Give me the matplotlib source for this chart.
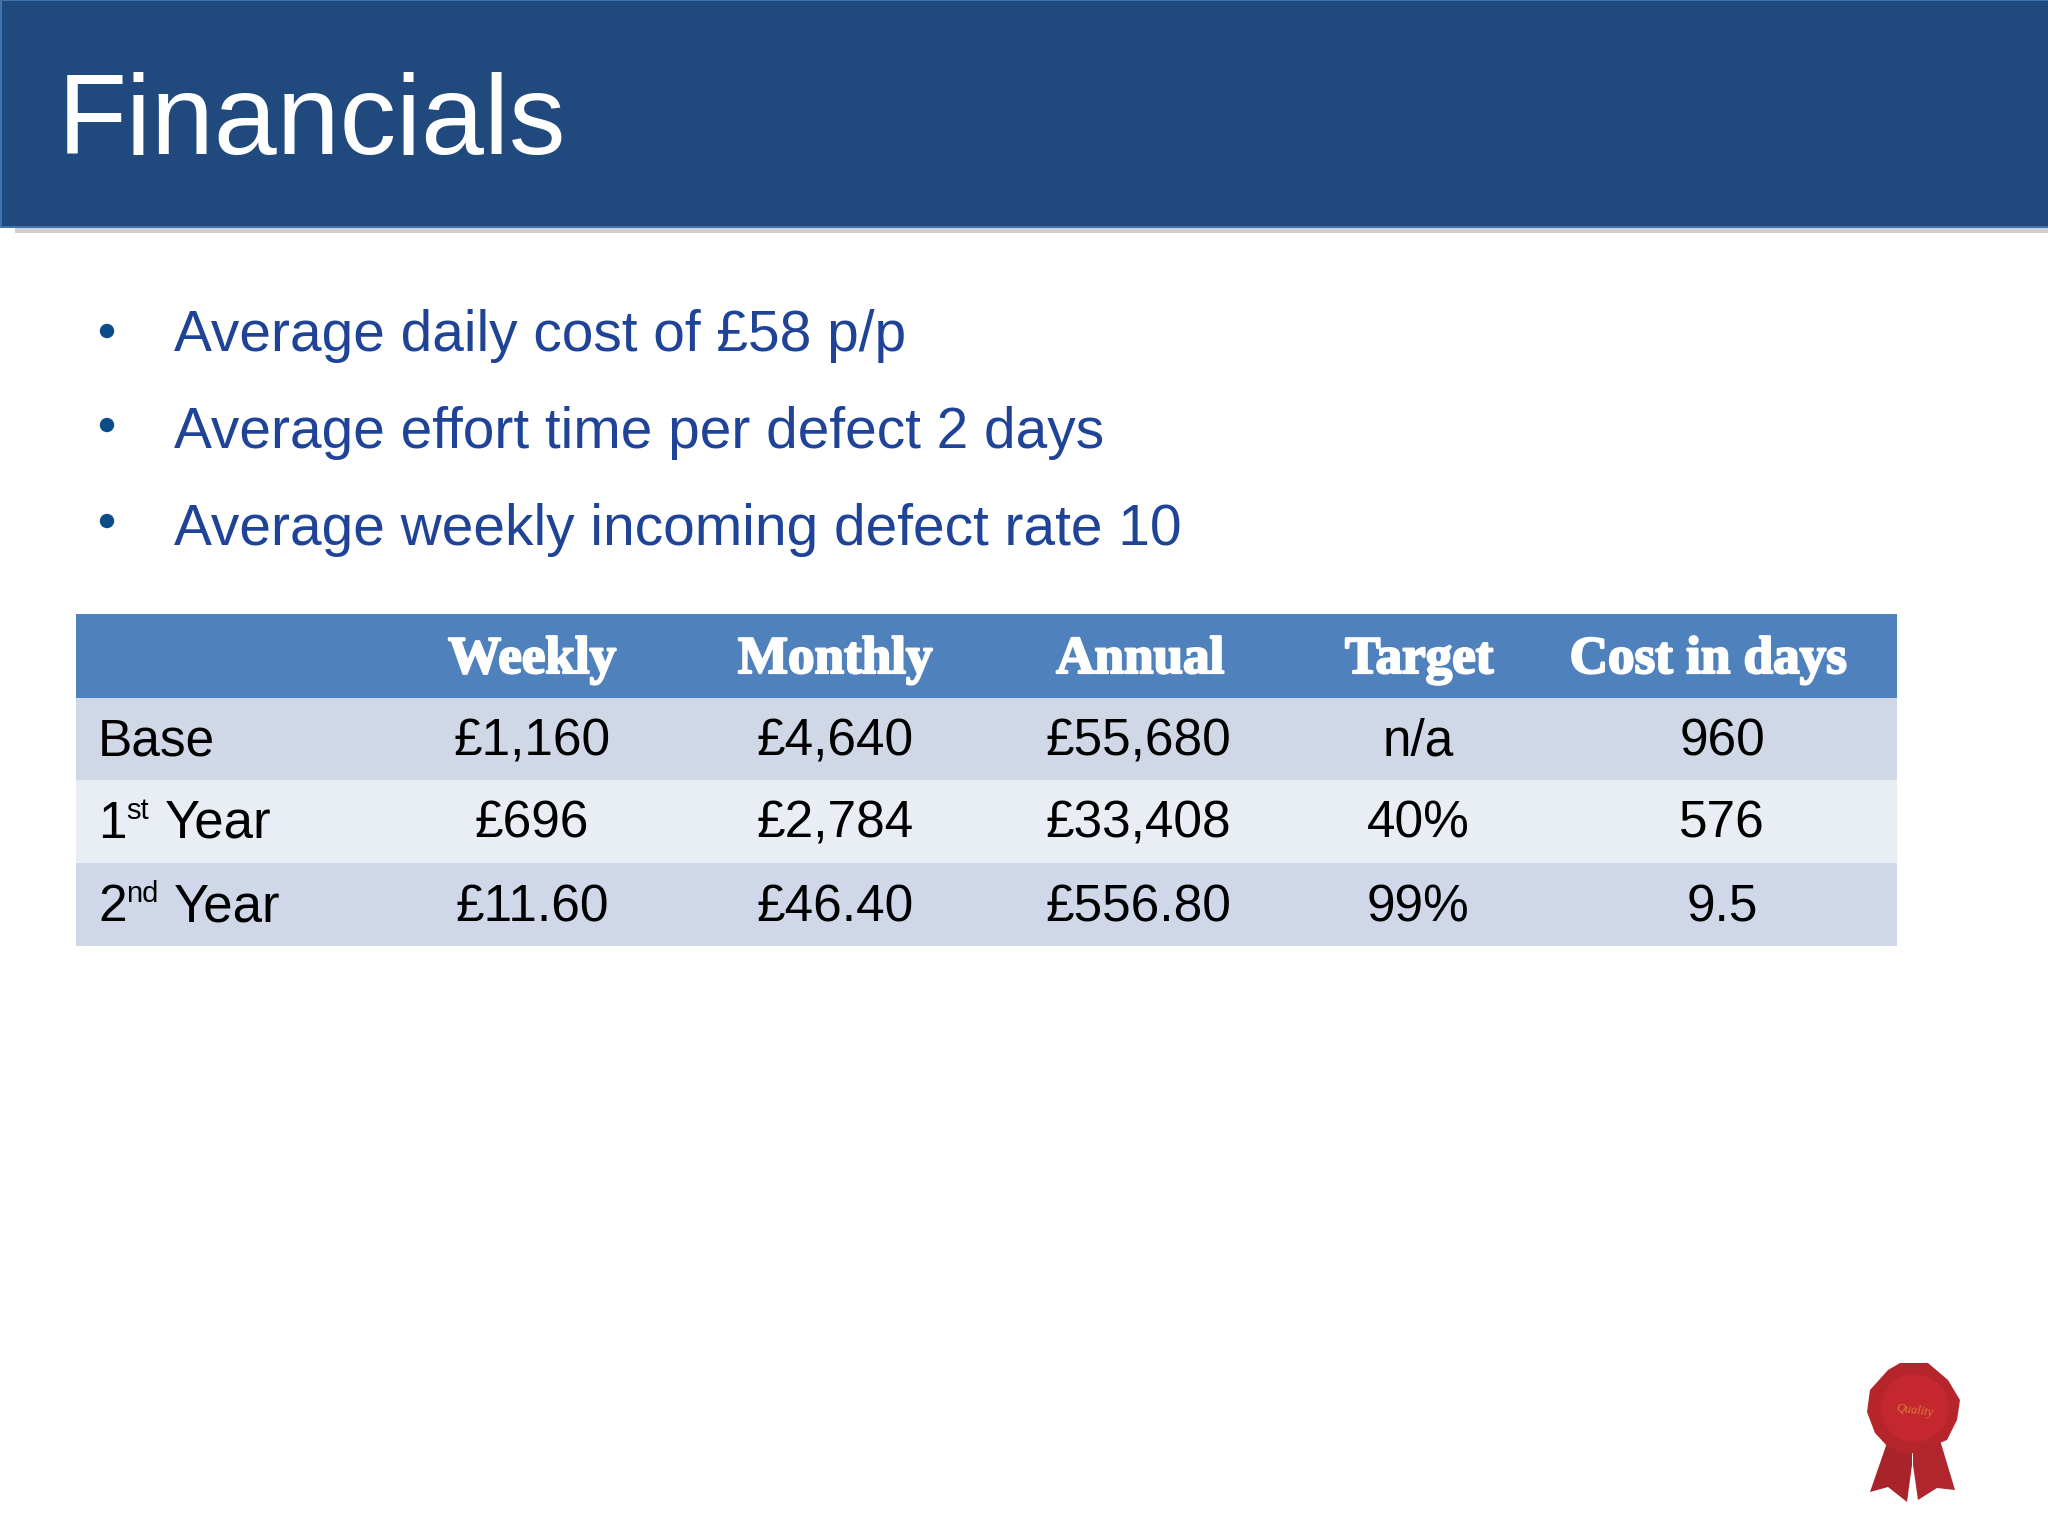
import numpy as np
import matplotlib
matplotlib.use("Agg")
from matplotlib import pyplot as plt
from matplotlib import patheffects
from matplotlib.patches import Rectangle, Polygon, Circle

plt.rcParams["font.family"] = ["Liberation Sans", "DejaVu Sans"]

title = "Financials"
bullets = ["Average daily cost of £58 p/p",
           "Average effort time per defect 2 days",
           "Average weekly incoming defect rate 10"]

columns = ["Weekly", "Monthly", "Annual", "Target", "Cost in days"]
weekly = ["£1,160", "£696", "£11.60"]
monthly = ["£4,640", "£2,784", "£46.40"]
annual = ["£55,680", "£33,408", "£556.80"]
target = ["n/a", "40%", "99%"]
cost_days = ["960", "576", "9.5"]

# layout in image pixels
W, H = 2048, 1536
col_x = [532, 835, 1138, 1418, 1722]
head_x = [532, 835, 1140, 1419, 1708]
row_edges = [614, 698, 780, 863, 946]
row_base = [755, 838, 921]
row_colors = ["#d0d8e8", "#e9edf4", "#cfd7e8"]
bullet_base = [351, 448, 545]
bullet_dot = [331, 425, 521]

fig = plt.figure(figsize=(W / 100, H / 100), dpi=100)
ax = fig.add_axes([0, 0, 1, 1])
ax.set_xlim(0, W)
ax.set_ylim(H, 0)
ax.axis("off")

# banner
ax.add_patch(Rectangle((15, 227), W - 15, 6, color="#d0d0d4", lw=0))
ax.add_patch(Rectangle((0, 0), W, 228, color="#3f74b0", lw=0))
ax.add_patch(Rectangle((2, 1), W - 2, 225, color="#20497e", lw=0))
ax.text(58, 154, title, color="white", fontsize=81.4, va="baseline")

# bullet list
for text, y, dot in zip(bullets, bullet_base, bullet_dot):
    ax.add_patch(Circle((107, dot), 7.2, color="#0b4c8a", lw=0))
    ax.text(174, y, text, color="#1f4497", fontsize=40.95, va="baseline")

# table
left, right = 76, 1897
ax.add_patch(Rectangle((left, row_edges[0]), right - left, row_edges[1] - row_edges[0],
                       color="#4f81bd", lw=0))
for i, c in enumerate(row_colors):
    ax.add_patch(Rectangle((left, row_edges[i + 1]), right - left,
                           row_edges[i + 2] - row_edges[i + 1], color=c, lw=0))

# heavy look of the header face comes from a thin stroke on a bold serif
fat = [patheffects.withStroke(linewidth=1.6, foreground="white")]
for x, name in zip(head_x, columns):
    ax.text(x, 673, name, color="white", fontsize=38.2, ha="center", va="baseline",
            family="Liberation Serif", fontweight="bold", path_effects=fat)

for x, vals in zip(col_x, [weekly, monthly, annual, target, cost_days]):
    for y, v in zip(row_base, vals):
        ax.text(x, y, v, color="black", fontsize=37, ha="center", va="baseline")

# row labels, with the superscripts as their own pieces
ax.text(98, row_base[0], "Base", fontsize=37, va="baseline")
ax.text(98, row_base[1], "1", fontsize=37, va="baseline")
ax.text(126, row_base[1] - 19, "st", fontsize=21, va="baseline")
ax.text(165, row_base[1], "Year", fontsize=38, va="baseline")
ax.text(98, row_base[2], "2", fontsize=37, va="baseline")
ax.text(126, row_base[2] - 19, "nd", fontsize=21, va="baseline")
ax.text(174, row_base[2], "Year", fontsize=38, va="baseline")

# wax seal badge
ax.add_patch(Polygon([(1888, 1440), (1870, 1492), (1888, 1487), (1907, 1502), (1912, 1465), (1912, 1440)],
                     color="#a8242a", lw=0))
ax.add_patch(Polygon([(1940, 1440), (1955, 1490), (1937, 1488), (1918, 1500), (1913, 1465), (1913, 1440)],
                     color="#b0262c", lw=0))
seal_x = [1867, 1870, 1888, 1900, 1928, 1948, 1960, 1957, 1947, 1930, 1908, 1888, 1875]
seal_y = [1412, 1390, 1370, 1363, 1363, 1380, 1400, 1420, 1440, 1447, 1455, 1447, 1433]
ax.add_patch(Polygon(list(zip(seal_x, seal_y)), color="#b5252b", lw=0))
ax.add_patch(Circle((1915, 1408), 34, color="#c4282e", lw=0))
ax.text(1915, 1411, "Quality", color="#d9773f", fontsize=9, style="italic", rotation=-8,
        ha="center", va="center", family="Liberation Serif")

fig.savefig("out.png", dpi=100, facecolor="white")
